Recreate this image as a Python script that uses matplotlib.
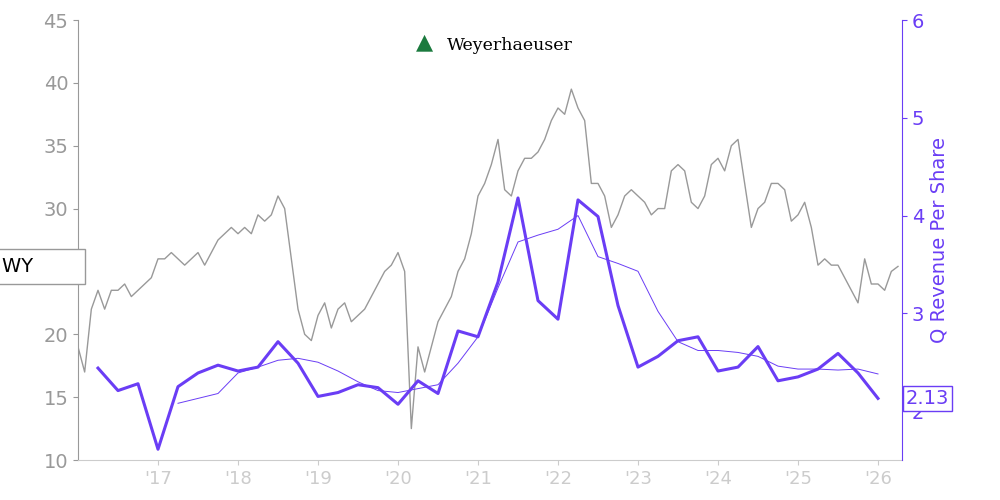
import numpy as np
import matplotlib.pyplot as plt

# monthly closing price (approx.)
price = [19, 17, 22, 23.5, 22, 23.5, 23.5, 24, 23, 23.5, 24, 24.5,
         26, 26, 26.5, 26, 25.5, 26, 26.5, 25.5, 26.5, 27.5, 28, 28.5,
         28, 28.5, 28, 29.5, 29, 29.5, 31, 30, 26, 22, 20, 19.5,
         21.5, 22.5, 20.5, 22, 22.5, 21, 21.5, 22, 23, 24, 25, 25.5,
         26.5, 25, 12.5, 19, 17, 19, 21, 22, 23, 25, 26, 28,
         31, 32, 33.5, 35.5, 31.5, 31, 33, 34, 34, 34.5, 35.5, 37,
         38, 37.5, 39.5, 38, 37, 32, 32, 31, 28.5, 29.5, 31, 31.5,
         31, 30.5, 29.5, 30, 30, 33, 33.5, 33, 30.5, 30, 31, 33.5,
         34, 33, 35, 35.5, 32, 28.5, 30, 30.5, 32, 32, 31.5, 29,
         29.5, 30.5, 28.5, 25.5, 26, 25.5, 25.5, 24.5, 23.5, 22.5, 26, 24,
         24, 23.5, 25, 25.4]
price_t = 2016 + np.arange(len(price)) / 12

rev = [2.44, 2.21, 2.28, 1.61, 2.25, 2.39, 2.47, 2.41, 2.45, 2.71, 2.49, 2.15,
       2.19, 2.27, 2.24, 2.07, 2.31, 2.18, 2.82, 2.76, 3.32, 4.18, 3.13, 2.94,
       4.16, 3.99, 3.08, 2.45, 2.56, 2.72, 2.76, 2.41, 2.45, 2.66, 2.31, 2.35,
       2.43, 2.59, 2.39, 2.13]
rev_t = 2016.25 + np.arange(len(rev)) * 0.25

rev_avg = [2.08, 2.13, 2.18, 2.39, 2.45, 2.52, 2.54, 2.50, 2.41, 2.30, 2.21, 2.19,
           2.23, 2.27, 2.49, 2.76, 3.26, 3.73, 3.80, 3.86, 4.00, 3.58, 3.51, 3.43,
           3.02, 2.71, 2.62, 2.62, 2.60, 2.56, 2.46, 2.43, 2.43, 2.42, 2.43, 2.38]
rev_avg_t = 2017.25 + np.arange(len(rev_avg)) * 0.25

purple = '#6a3df5'
gray = '#999999'

fig, ax = plt.subplots(figsize=(10, 5), dpi=100)
fig.subplots_adjust(left=0.078, right=0.902, top=0.96, bottom=0.08)
ax.plot(price_t, price, color=gray, lw=1.0)
ax.set_ylim(10, 45)
ax.set_xlim(2016.0, 2026.3)
ax.set_yticks(range(10, 46, 5))
ax.set_xticks(range(2017, 2027))
ax.set_xticklabels(["'%02d" % (y % 100) for y in range(2017, 2027)])
ax.tick_params(axis='y', colors=gray, labelsize=14)
ax.tick_params(axis='x', colors='#cccccc', labelsize=13)
for s in ['top', 'right']:
    ax.spines[s].set_visible(False)
ax.spines['left'].set_color(gray)
ax.spines['bottom'].set_color('#cccccc')

ax2 = ax.twinx()
ax2.plot(rev_t, rev, color=purple, lw=2.2)
ax2.plot(rev_avg_t, rev_avg, color=purple, lw=0.7)
ax2.set_ylim(1.5, 6)
ax2.set_yticks([2, 3, 4, 5, 6])
ax2.tick_params(axis='y', colors=purple, labelsize=14)
for s in ['top', 'left', 'bottom']:
    ax2.spines[s].set_visible(False)
ax2.spines['right'].set_color(purple)
ax2.set_ylabel('Q Revenue Per Share', color=purple, fontsize=14)

ax2.text(2026.35, rev[-1], '%.2f' % rev[-1], color=purple, fontsize=14, va='center',
         bbox=dict(boxstyle='square,pad=0.15', fc='white', ec=purple))
wy_y = ax.transData.transform((2016, price[-1]))[1] / fig.bbox.height
fig.text(0.002, wy_y, 'WY       ', fontsize=14, va='center', ha='left', zorder=10,
         bbox=dict(boxstyle='square,pad=0.4', fc='white', ec=gray))

fig.text(0.425, 0.915, '\u25B2', color='#1b7a3e', fontsize=16, ha='center', va='center')
fig.text(0.447, 0.908, 'Weyerhaeuser', family='DejaVu Serif', fontsize=12.5, va='center')

fig.savefig('out.png')
